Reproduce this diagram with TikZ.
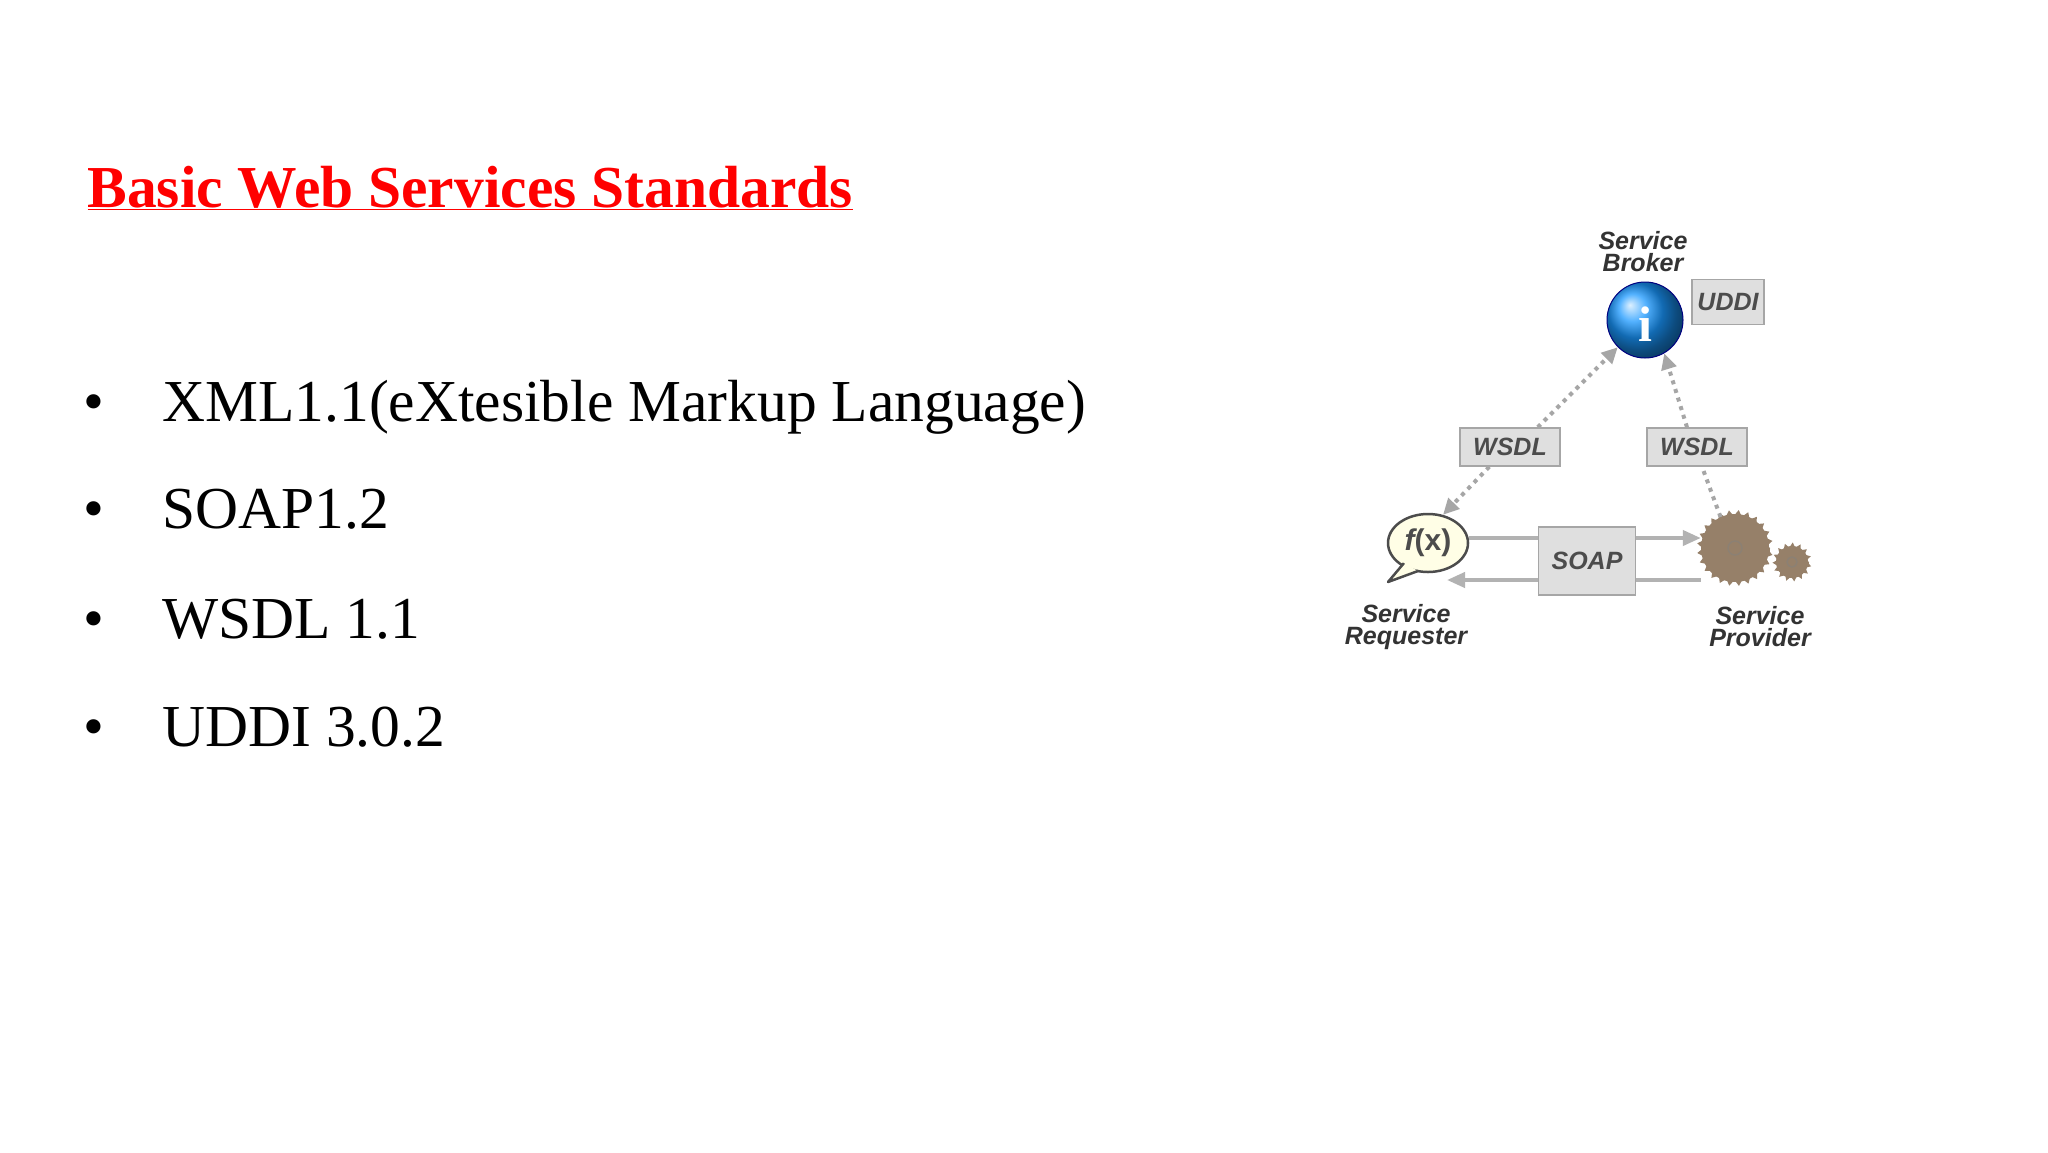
\documentclass[tikz,border=0pt]{standalone}
\usepackage{fontspec}
\setmainfont{Liberation Serif}
\newfontfamily\lsans{Liberation Sans}
\usetikzlibrary{arrows.meta,shapes.geometric,decorations.pathmorphing,calc}
\begin{document}
\begin{tikzpicture}[x=1pt,y=-1pt,
  doc/.style={draw=gray!70,fill=gray!25,line width=1.5pt,inner sep=0pt,font=\lsans\bfseries\itshape\fontsize{25}{25}\selectfont,text=gray!60!black},
  lbl/.style={font=\lsans\bfseries\itshape\fontsize{25}{25}\selectfont,text=black!80,align=center},
  dotarr/.style={draw=gray!70,line width=4pt,dash pattern=on 4pt off 5pt,-{Triangle[length=16pt,width=15pt,fill=gray!70]}},
  solarr/.style={draw=gray!60,line width=4pt,-{Triangle[length=18pt,width=15pt]}},
  bul/.style={anchor=base west,font=\fontsize{59.5}{60}\selectfont}]
\useasboundingbox (0,0) rectangle (2048,1152);
\fill[white] (0,0) rectangle (2048,1152);
\node[anchor=base west,text=red,font=\bfseries\fontsize{59.5}{60}\selectfont] (title) at (84,207) {\underline{Basic Web Services Standards}};
\foreach \t/\y/\n in {XML1.1(eXtesible Markup Language)/421/a,SOAP1.2/528/b,WSDL 1.1/638/c,UDDI 3.0.2/746/d}{
  \node[bul] (dot\n) at (80,\y) {\textbullet};
  \node[bul] (b\n) at (159,\y) {\t};
}
% diagram
\node[lbl] (brokerlbl) at (1643,252) {Service\\[-3pt]Broker};
\node[lbl] (reqlbl) at (1406,627) {Service\\[-3pt]Requester};
\node[lbl] (provlbl) at (1760,627) {Service\\[-3pt]Provider};
\node[circle,minimum size=76pt,inner sep=0pt,draw=blue!50!black,line width=1pt,
  shading=ball,ball color=blue!45!cyan!90!white] (ball) at (1645,320) {};
\node[text=white,font=\bfseries\fontsize{50}{50}\selectfont] (itext) at (1645,324) {i};
\node[doc,minimum width=72pt,minimum height=45pt] (uddi) at (1728,302) {UDDI};
\node[doc,minimum width=100pt,minimum height=38pt] (wl) at (1510,447) {WSDL};
\node[doc,minimum width=100pt,minimum height=38pt] (wr) at (1697,447) {WSDL};
\node[doc,minimum width=97pt,minimum height=68pt] (soap) at (1587,561) {SOAP};
\node[ellipse,draw=black!70,line width=2.5pt,fill=yellow!10,minimum width=80pt,minimum height=58pt,inner sep=0pt] (fx) at (1428,543) {};
\fill[yellow!10,draw=black!70,line width=2.5pt,line join=round] (1404,563) -- (1388,582) -- (1418,571);
\node[ellipse,fill=yellow!10,minimum width=74pt,minimum height=52pt,inner sep=0pt] (fxin) at (1428,543) {};
\node[font=\lsans\bfseries\fontsize{30}{30}\selectfont,text=black!70] (fxt) at (1428,543) {\itshape f\upshape(x)};
\fill[brown!35!gray,decorate,decoration={zigzag,segment length=9pt,amplitude=3pt}] (1735,548) circle (35pt);
\node[circle,fill=brown!35!gray,minimum size=68pt,inner sep=0pt] (gear) at (1735,548) {};
\draw[brown!20!gray,line width=1.5pt] (1735,548) circle (7pt);
\fill[brown!35!gray,decorate,decoration={zigzag,segment length=7pt,amplitude=2.5pt}] (1792,562) circle (17pt);
\node[circle,fill=brown!35!gray,minimum size=32pt,inner sep=0pt] (gear2) at (1792,562) {};
\draw[brown!20!gray,line width=1.5pt] (1792,562) circle (5pt);
% connectors
\draw[draw=gray!60,line width=4pt] (fx.east|-0,538) -- (soap.west|-0,538);
\draw[solarr] (soap.east|-0,538) -- (gear.west|-0,538);
\draw[draw=gray!60,line width=4pt] (gear.west|-0,580) -- (soap.east|-0,580);
\draw[solarr] (soap.west|-0,580) -- (1447,580);
\draw[dotarr] ($(wl.north east)+(-23,0)$) -- (ball.225);
\draw[dotarr] ($(wl.south west)+(30,0)$) -- (fx.62);
\draw[dotarr] ($(wr.north)+(-10,0)$) -- (ball.300);
\draw[draw=gray!70,line width=4pt,dash pattern=on 4pt off 5pt] (gear.115) -- ($(wr.south)+(5,0)$);
\end{tikzpicture}
\end{document}
